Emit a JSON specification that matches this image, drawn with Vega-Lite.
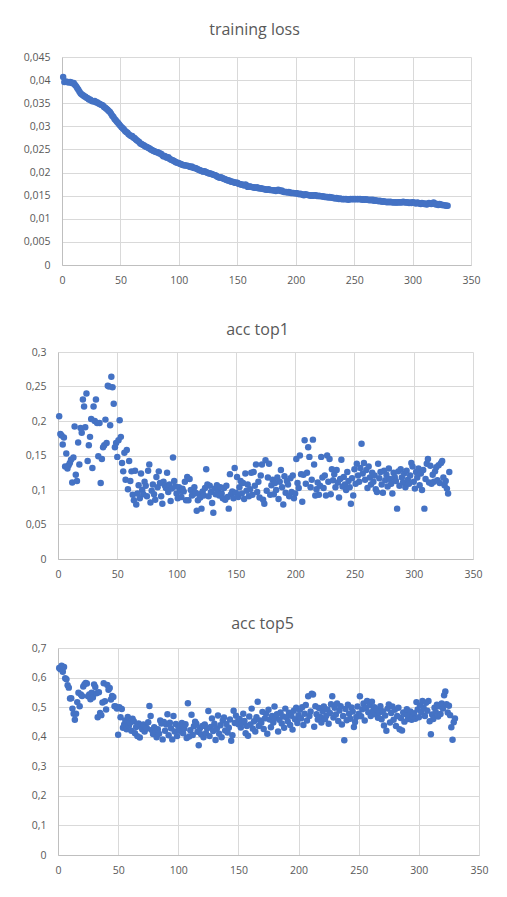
{
  "$schema": "https://vega.github.io/schema/vega-lite/v6.json",
  "background": "white",
  "padding": {"left": 0, "top": 22, "right": 0, "bottom": 0},
  "data": {"values": [
{"e":1,"loss":0.0407,"top1":0.207,"top5":0.632},{"e":2,"loss":0.0396,"top1":0.181,"top5":0.628},{"e":3,"loss":0.0397,"top1":0.179,"top5":0.640},{"e":4,"loss":0.0396,"top1":0.166,"top5":0.620},{"e":5,"loss":0.0396,"top1":0.176,"top5":0.636},
{"e":6,"loss":0.0395,"top1":0.134,"top5":0.598},{"e":7,"loss":0.0396,"top1":0.153,"top5":0.594},{"e":8,"loss":0.0395,"top1":0.131,"top5":0.574},{"e":9,"loss":0.0393,"top1":0.136,"top5":0.566},{"e":10,"loss":0.0394,"top1":0.139,"top5":0.529},
{"e":11,"loss":0.0390,"top1":0.144,"top5":0.530},{"e":12,"loss":0.0387,"top1":0.111,"top5":0.495},{"e":13,"loss":0.0383,"top1":0.147,"top5":0.478},{"e":14,"loss":0.0379,"top1":0.192,"top5":0.457},{"e":15,"loss":0.0375,"top1":0.122,"top5":0.478},
{"e":16,"loss":0.0371,"top1":0.113,"top5":0.517},{"e":17,"loss":0.0369,"top1":0.169,"top5":0.549},{"e":18,"loss":0.0367,"top1":0.137,"top5":0.503},{"e":19,"loss":0.0365,"top1":0.190,"top5":0.543},{"e":20,"loss":0.0364,"top1":0.183,"top5":0.538},
{"e":21,"loss":0.0362,"top1":0.231,"top5":0.570},{"e":22,"loss":0.0361,"top1":0.221,"top5":0.577},{"e":23,"loss":0.0358,"top1":0.191,"top5":0.582},{"e":24,"loss":0.0358,"top1":0.240,"top5":0.580},{"e":25,"loss":0.0356,"top1":0.142,"top5":0.537},
{"e":26,"loss":0.0354,"top1":0.165,"top5":0.543},{"e":27,"loss":0.0354,"top1":0.177,"top5":0.527},{"e":28,"loss":0.0355,"top1":0.203,"top5":0.549},{"e":29,"loss":0.0352,"top1":0.132,"top5":0.533},{"e":30,"loss":0.0352,"top1":0.221,"top5":0.577},
{"e":31,"loss":0.0350,"top1":0.200,"top5":0.568},{"e":32,"loss":0.0349,"top1":0.231,"top5":0.547},{"e":33,"loss":0.0347,"top1":0.197,"top5":0.466},{"e":34,"loss":0.0346,"top1":0.149,"top5":0.550},{"e":35,"loss":0.0345,"top1":0.197,"top5":0.480},
{"e":36,"loss":0.0342,"top1":0.110,"top5":0.473},{"e":37,"loss":0.0340,"top1":0.145,"top5":0.516},{"e":38,"loss":0.0338,"top1":0.162,"top5":0.581},{"e":39,"loss":0.0336,"top1":0.165,"top5":0.520},{"e":40,"loss":0.0333,"top1":0.202,"top5":0.492},
{"e":41,"loss":0.0331,"top1":0.168,"top5":0.575},{"e":42,"loss":0.0327,"top1":0.251,"top5":0.559},{"e":43,"loss":0.0323,"top1":0.250,"top5":0.565},{"e":44,"loss":0.0320,"top1":0.194,"top5":0.526},{"e":45,"loss":0.0316,"top1":0.264,"top5":0.538},
{"e":46,"loss":0.0313,"top1":0.249,"top5":0.534},{"e":47,"loss":0.0310,"top1":0.225,"top5":0.503},{"e":48,"loss":0.0307,"top1":0.162,"top5":0.502},{"e":49,"loss":0.0304,"top1":0.168,"top5":0.495},{"e":50,"loss":0.0301,"top1":0.148,"top5":0.407},
{"e":51,"loss":0.0298,"top1":0.172,"top5":0.500},{"e":52,"loss":0.0296,"top1":0.201,"top5":0.466},{"e":53,"loss":0.0293,"top1":0.177,"top5":0.494},{"e":54,"loss":0.0290,"top1":0.139,"top5":0.430},{"e":55,"loss":0.0288,"top1":0.127,"top5":0.441},
{"e":56,"loss":0.0286,"top1":0.154,"top5":0.455},{"e":57,"loss":0.0283,"top1":0.115,"top5":0.425},{"e":58,"loss":0.0281,"top1":0.158,"top5":0.467},{"e":59,"loss":0.0279,"top1":0.101,"top5":0.438},{"e":60,"loss":0.0279,"top1":0.142,"top5":0.448},
{"e":61,"loss":0.0276,"top1":0.113,"top5":0.420},{"e":62,"loss":0.0275,"top1":0.127,"top5":0.461},{"e":63,"loss":0.0272,"top1":0.093,"top5":0.452},{"e":64,"loss":0.0270,"top1":0.085,"top5":0.412},{"e":65,"loss":0.0268,"top1":0.128,"top5":0.433},
{"e":66,"loss":0.0266,"top1":0.079,"top5":0.402},{"e":67,"loss":0.0263,"top1":0.095,"top5":0.445},{"e":68,"loss":0.0262,"top1":0.107,"top5":0.397},{"e":69,"loss":0.0260,"top1":0.088,"top5":0.437},{"e":70,"loss":0.0259,"top1":0.124,"top5":0.425},
{"e":71,"loss":0.0257,"top1":0.100,"top5":0.441},{"e":72,"loss":0.0256,"top1":0.094,"top5":0.418},{"e":73,"loss":0.0255,"top1":0.112,"top5":0.433},{"e":74,"loss":0.0253,"top1":0.106,"top5":0.428},{"e":75,"loss":0.0252,"top1":0.091,"top5":0.449},
{"e":76,"loss":0.0250,"top1":0.128,"top5":0.504},{"e":77,"loss":0.0249,"top1":0.137,"top5":0.470},{"e":78,"loss":0.0247,"top1":0.082,"top5":0.423},{"e":79,"loss":0.0246,"top1":0.099,"top5":0.409},{"e":80,"loss":0.0245,"top1":0.108,"top5":0.432},
{"e":81,"loss":0.0244,"top1":0.094,"top5":0.418},{"e":82,"loss":0.0244,"top1":0.086,"top5":0.398},{"e":83,"loss":0.0242,"top1":0.119,"top5":0.425},{"e":84,"loss":0.0241,"top1":0.104,"top5":0.410},{"e":85,"loss":0.0240,"top1":0.127,"top5":0.455},
{"e":86,"loss":0.0237,"top1":0.110,"top5":0.445},{"e":87,"loss":0.0235,"top1":0.091,"top5":0.391},{"e":88,"loss":0.0236,"top1":0.080,"top5":0.450},{"e":89,"loss":0.0233,"top1":0.112,"top5":0.420},{"e":90,"loss":0.0232,"top1":0.107,"top5":0.441},
{"e":91,"loss":0.0233,"top1":0.103,"top5":0.476},{"e":92,"loss":0.0230,"top1":0.125,"top5":0.405},{"e":93,"loss":0.0228,"top1":0.097,"top5":0.447},{"e":94,"loss":0.0227,"top1":0.108,"top5":0.429},{"e":95,"loss":0.0226,"top1":0.084,"top5":0.391},
{"e":96,"loss":0.0225,"top1":0.102,"top5":0.470},{"e":97,"loss":0.0223,"top1":0.147,"top5":0.418},{"e":98,"loss":0.0222,"top1":0.113,"top5":0.443},{"e":99,"loss":0.0221,"top1":0.105,"top5":0.402},{"e":100,"loss":0.0220,"top1":0.095,"top5":0.435},
{"e":101,"loss":0.0219,"top1":0.088,"top5":0.420},{"e":102,"loss":0.0218,"top1":0.104,"top5":0.437},{"e":103,"loss":0.0217,"top1":0.099,"top5":0.446},{"e":104,"loss":0.0216,"top1":0.090,"top5":0.412},{"e":105,"loss":0.0216,"top1":0.102,"top5":0.428},
{"e":106,"loss":0.0215,"top1":0.098,"top5":0.442},{"e":107,"loss":0.0215,"top1":0.112,"top5":0.396},{"e":108,"loss":0.0214,"top1":0.085,"top5":0.513},{"e":109,"loss":0.0213,"top1":0.119,"top5":0.401},{"e":110,"loss":0.0212,"top1":0.085,"top5":0.422},
{"e":111,"loss":0.0213,"top1":0.116,"top5":0.474},{"e":112,"loss":0.0211,"top1":0.100,"top5":0.406},{"e":113,"loss":0.0210,"top1":0.092,"top5":0.435},{"e":114,"loss":0.0210,"top1":0.094,"top5":0.451},{"e":115,"loss":0.0209,"top1":0.104,"top5":0.444},
{"e":116,"loss":0.0207,"top1":0.096,"top5":0.417},{"e":117,"loss":0.0206,"top1":0.070,"top5":0.371},{"e":118,"loss":0.0205,"top1":0.085,"top5":0.429},{"e":119,"loss":0.0204,"top1":0.094,"top5":0.408},{"e":120,"loss":0.0203,"top1":0.089,"top5":0.436},
{"e":121,"loss":0.0202,"top1":0.073,"top5":0.398},{"e":122,"loss":0.0203,"top1":0.098,"top5":0.441},{"e":123,"loss":0.0201,"top1":0.092,"top5":0.412},{"e":124,"loss":0.0200,"top1":0.103,"top5":0.428},{"e":125,"loss":0.0199,"top1":0.130,"top5":0.487},
{"e":126,"loss":0.0198,"top1":0.108,"top5":0.402},{"e":127,"loss":0.0198,"top1":0.091,"top5":0.433},{"e":128,"loss":0.0197,"top1":0.106,"top5":0.462},{"e":129,"loss":0.0196,"top1":0.097,"top5":0.419},{"e":130,"loss":0.0195,"top1":0.081,"top5":0.444},
{"e":131,"loss":0.0194,"top1":0.067,"top5":0.389},{"e":132,"loss":0.0193,"top1":0.102,"top5":0.427},{"e":133,"loss":0.0191,"top1":0.094,"top5":0.472},{"e":134,"loss":0.0190,"top1":0.107,"top5":0.410},{"e":135,"loss":0.0189,"top1":0.099,"top5":0.439},
{"e":136,"loss":0.0190,"top1":0.092,"top5":0.398},{"e":137,"loss":0.0188,"top1":0.104,"top5":0.455},{"e":138,"loss":0.0187,"top1":0.095,"top5":0.465},{"e":139,"loss":0.0186,"top1":0.088,"top5":0.421},{"e":140,"loss":0.0185,"top1":0.103,"top5":0.443},
{"e":141,"loss":0.0184,"top1":0.086,"top5":0.414},{"e":142,"loss":0.0183,"top1":0.106,"top5":0.430},{"e":143,"loss":0.0183,"top1":0.090,"top5":0.458},{"e":144,"loss":0.0181,"top1":0.073,"top5":0.386},{"e":145,"loss":0.0180,"top1":0.123,"top5":0.405},
{"e":146,"loss":0.0180,"top1":0.094,"top5":0.488},{"e":147,"loss":0.0179,"top1":0.098,"top5":0.446},{"e":148,"loss":0.0178,"top1":0.088,"top5":0.471},{"e":149,"loss":0.0178,"top1":0.132,"top5":0.450},{"e":150,"loss":0.0178,"top1":0.096,"top5":0.442},
{"e":151,"loss":0.0176,"top1":0.119,"top5":0.460},{"e":152,"loss":0.0175,"top1":0.090,"top5":0.431},{"e":153,"loss":0.0174,"top1":0.104,"top5":0.446},{"e":154,"loss":0.0174,"top1":0.113,"top5":0.478},{"e":155,"loss":0.0173,"top1":0.095,"top5":0.453},
{"e":156,"loss":0.0172,"top1":0.110,"top5":0.412},{"e":157,"loss":0.0174,"top1":0.087,"top5":0.436},{"e":158,"loss":0.0172,"top1":0.124,"top5":0.403},{"e":159,"loss":0.0169,"top1":0.099,"top5":0.468},{"e":160,"loss":0.0170,"top1":0.108,"top5":0.441},
{"e":161,"loss":0.0170,"top1":0.091,"top5":0.495},{"e":162,"loss":0.0169,"top1":0.101,"top5":0.427},{"e":163,"loss":0.0168,"top1":0.125,"top5":0.452},{"e":164,"loss":0.0168,"top1":0.093,"top5":0.418},{"e":165,"loss":0.0167,"top1":0.126,"top5":0.466},
{"e":166,"loss":0.0167,"top1":0.106,"top5":0.518},{"e":167,"loss":0.0168,"top1":0.137,"top5":0.436},{"e":168,"loss":0.0166,"top1":0.097,"top5":0.455},{"e":169,"loss":0.0166,"top1":0.112,"top5":0.447},{"e":170,"loss":0.0166,"top1":0.089,"top5":0.484},
{"e":171,"loss":0.0165,"top1":0.121,"top5":0.426},{"e":172,"loss":0.0165,"top1":0.137,"top5":0.462},{"e":173,"loss":0.0164,"top1":0.086,"top5":0.478},{"e":174,"loss":0.0164,"top1":0.080,"top5":0.410},{"e":175,"loss":0.0163,"top1":0.143,"top5":0.491},
{"e":176,"loss":0.0163,"top1":0.099,"top5":0.458},{"e":177,"loss":0.0164,"top1":0.118,"top5":0.432},{"e":178,"loss":0.0162,"top1":0.138,"top5":0.470},{"e":179,"loss":0.0162,"top1":0.093,"top5":0.448},{"e":180,"loss":0.0162,"top1":0.107,"top5":0.502},
{"e":181,"loss":0.0161,"top1":0.115,"top5":0.464},{"e":182,"loss":0.0162,"top1":0.094,"top5":0.476},{"e":183,"loss":0.0160,"top1":0.110,"top5":0.418},{"e":184,"loss":0.0161,"top1":0.100,"top5":0.457},{"e":185,"loss":0.0163,"top1":0.118,"top5":0.482},
{"e":186,"loss":0.0162,"top1":0.087,"top5":0.445},{"e":187,"loss":0.0160,"top1":0.112,"top5":0.468},{"e":188,"loss":0.0161,"top1":0.129,"top5":0.430},{"e":189,"loss":0.0159,"top1":0.104,"top5":0.495},{"e":190,"loss":0.0158,"top1":0.079,"top5":0.466},
{"e":191,"loss":0.0158,"top1":0.120,"top5":0.452},{"e":192,"loss":0.0158,"top1":0.096,"top5":0.481},{"e":193,"loss":0.0157,"top1":0.113,"top5":0.440},{"e":194,"loss":0.0158,"top1":0.108,"top5":0.471},{"e":195,"loss":0.0157,"top1":0.091,"top5":0.424},
{"e":196,"loss":0.0156,"top1":0.117,"top5":0.488},{"e":197,"loss":0.0156,"top1":0.097,"top5":0.459},{"e":198,"loss":0.0156,"top1":0.121,"top5":0.498},{"e":199,"loss":0.0155,"top1":0.088,"top5":0.446},{"e":200,"loss":0.0155,"top1":0.095,"top5":0.473},
{"e":201,"loss":0.0155,"top1":0.145,"top5":0.491},{"e":202,"loss":0.0154,"top1":0.110,"top5":0.462},{"e":203,"loss":0.0153,"top1":0.103,"top5":0.500},{"e":204,"loss":0.0154,"top1":0.150,"top5":0.440},{"e":205,"loss":0.0153,"top1":0.123,"top5":0.478},
{"e":206,"loss":0.0152,"top1":0.083,"top5":0.507},{"e":207,"loss":0.0151,"top1":0.122,"top5":0.455},{"e":208,"loss":0.0153,"top1":0.172,"top5":0.537},{"e":209,"loss":0.0152,"top1":0.109,"top5":0.470},{"e":210,"loss":0.0152,"top1":0.125,"top5":0.485},
{"e":211,"loss":0.0151,"top1":0.162,"top5":0.545},{"e":212,"loss":0.0151,"top1":0.148,"top5":0.543},{"e":213,"loss":0.0150,"top1":0.104,"top5":0.434},{"e":214,"loss":0.0151,"top1":0.115,"top5":0.503},{"e":215,"loss":0.0150,"top1":0.173,"top5":0.476},
{"e":216,"loss":0.0151,"top1":0.137,"top5":0.458},{"e":217,"loss":0.0151,"top1":0.092,"top5":0.497},{"e":218,"loss":0.0150,"top1":0.101,"top5":0.467},{"e":219,"loss":0.0149,"top1":0.111,"top5":0.448},{"e":220,"loss":0.0150,"top1":0.093,"top5":0.486},
{"e":221,"loss":0.0149,"top1":0.106,"top5":0.502},{"e":222,"loss":0.0149,"top1":0.148,"top5":0.460},{"e":223,"loss":0.0148,"top1":0.118,"top5":0.471},{"e":224,"loss":0.0148,"top1":0.103,"top5":0.492},{"e":225,"loss":0.0147,"top1":0.121,"top5":0.444},
{"e":226,"loss":0.0147,"top1":0.092,"top5":0.480},{"e":227,"loss":0.0147,"top1":0.150,"top5":0.510},{"e":228,"loss":0.0146,"top1":0.112,"top5":0.537},{"e":229,"loss":0.0147,"top1":0.145,"top5":0.465},{"e":230,"loss":0.0146,"top1":0.094,"top5":0.498},
{"e":231,"loss":0.0146,"top1":0.130,"top5":0.475},{"e":232,"loss":0.0145,"top1":0.114,"top5":0.512},{"e":233,"loss":0.0145,"top1":0.123,"top5":0.453},{"e":234,"loss":0.0144,"top1":0.104,"top5":0.489},{"e":235,"loss":0.0145,"top1":0.129,"top5":0.503},
{"e":236,"loss":0.0144,"top1":0.111,"top5":0.441},{"e":237,"loss":0.0143,"top1":0.089,"top5":0.470},{"e":238,"loss":0.0144,"top1":0.116,"top5":0.388},{"e":239,"loss":0.0143,"top1":0.144,"top5":0.494},{"e":240,"loss":0.0142,"top1":0.105,"top5":0.456},
{"e":241,"loss":0.0143,"top1":0.119,"top5":0.508},{"e":242,"loss":0.0142,"top1":0.108,"top5":0.478},{"e":243,"loss":0.0143,"top1":0.100,"top5":0.461},{"e":244,"loss":0.0142,"top1":0.126,"top5":0.499},{"e":245,"loss":0.0141,"top1":0.113,"top5":0.485},
{"e":246,"loss":0.0142,"top1":0.104,"top5":0.433},{"e":247,"loss":0.0143,"top1":0.080,"top5":0.450},{"e":248,"loss":0.0142,"top1":0.117,"top5":0.467},{"e":249,"loss":0.0143,"top1":0.092,"top5":0.502},{"e":250,"loss":0.0142,"top1":0.130,"top5":0.478},
{"e":251,"loss":0.0143,"top1":0.109,"top5":0.537},{"e":252,"loss":0.0142,"top1":0.138,"top5":0.469},{"e":253,"loss":0.0143,"top1":0.121,"top5":0.493},{"e":254,"loss":0.0142,"top1":0.112,"top5":0.512},{"e":255,"loss":0.0143,"top1":0.132,"top5":0.455},
{"e":256,"loss":0.0142,"top1":0.167,"top5":0.497},{"e":257,"loss":0.0141,"top1":0.124,"top5":0.521},{"e":258,"loss":0.0142,"top1":0.139,"top5":0.483},{"e":259,"loss":0.0141,"top1":0.115,"top5":0.506},{"e":260,"loss":0.0142,"top1":0.129,"top5":0.470},
{"e":261,"loss":0.0141,"top1":0.103,"top5":0.518},{"e":262,"loss":0.0141,"top1":0.134,"top5":0.488},{"e":263,"loss":0.0140,"top1":0.118,"top5":0.500},{"e":264,"loss":0.0141,"top1":0.108,"top5":0.476},{"e":265,"loss":0.0140,"top1":0.125,"top5":0.492},
{"e":266,"loss":0.0141,"top1":0.112,"top5":0.464},{"e":267,"loss":0.0139,"top1":0.121,"top5":0.481},{"e":268,"loss":0.0140,"top1":0.101,"top5":0.503},{"e":269,"loss":0.0139,"top1":0.097,"top5":0.459},{"e":270,"loss":0.0139,"top1":0.138,"top5":0.486},
{"e":271,"loss":0.0138,"top1":0.117,"top5":0.438},{"e":272,"loss":0.0139,"top1":0.126,"top5":0.472},{"e":273,"loss":0.0138,"top1":0.108,"top5":0.420},{"e":274,"loss":0.0137,"top1":0.096,"top5":0.495},{"e":275,"loss":0.0138,"top1":0.128,"top5":0.509},
{"e":276,"loss":0.0137,"top1":0.114,"top5":0.448},{"e":277,"loss":0.0137,"top1":0.122,"top5":0.480},{"e":278,"loss":0.0136,"top1":0.105,"top5":0.502},{"e":279,"loss":0.0137,"top1":0.131,"top5":0.457},{"e":280,"loss":0.0136,"top1":0.116,"top5":0.491},
{"e":281,"loss":0.0137,"top1":0.109,"top5":0.436},{"e":282,"loss":0.0136,"top1":0.095,"top5":0.470},{"e":283,"loss":0.0136,"top1":0.125,"top5":0.498},{"e":284,"loss":0.0135,"top1":0.119,"top5":0.425},{"e":285,"loss":0.0136,"top1":0.113,"top5":0.463},
{"e":286,"loss":0.0135,"top1":0.073,"top5":0.421},{"e":287,"loss":0.0135,"top1":0.127,"top5":0.482},{"e":288,"loss":0.0136,"top1":0.106,"top5":0.451},{"e":289,"loss":0.0136,"top1":0.130,"top5":0.476},{"e":290,"loss":0.0135,"top1":0.118,"top5":0.493},
{"e":291,"loss":0.0136,"top1":0.111,"top5":0.460},{"e":292,"loss":0.0137,"top1":0.124,"top5":0.472},{"e":293,"loss":0.0136,"top1":0.104,"top5":0.485},{"e":294,"loss":0.0135,"top1":0.128,"top5":0.457},{"e":295,"loss":0.0136,"top1":0.115,"top5":0.468},
{"e":296,"loss":0.0135,"top1":0.109,"top5":0.479},{"e":297,"loss":0.0134,"top1":0.121,"top5":0.461},{"e":298,"loss":0.0135,"top1":0.139,"top5":0.517},{"e":299,"loss":0.0134,"top1":0.134,"top5":0.492},{"e":300,"loss":0.0136,"top1":0.112,"top5":0.466},
{"e":301,"loss":0.0135,"top1":0.102,"top5":0.506},{"e":302,"loss":0.0134,"top1":0.126,"top5":0.483},{"e":303,"loss":0.0133,"top1":0.118,"top5":0.521},{"e":304,"loss":0.0135,"top1":0.131,"top5":0.497},{"e":305,"loss":0.0134,"top1":0.107,"top5":0.470},
{"e":306,"loss":0.0133,"top1":0.124,"top5":0.515},{"e":307,"loss":0.0132,"top1":0.100,"top5":0.488},{"e":308,"loss":0.0134,"top1":0.129,"top5":0.521},{"e":309,"loss":0.0133,"top1":0.073,"top5":0.452},{"e":310,"loss":0.0132,"top1":0.116,"top5":0.408},
{"e":311,"loss":0.0133,"top1":0.138,"top5":0.475},{"e":312,"loss":0.0131,"top1":0.145,"top5":0.460},{"e":313,"loss":0.0132,"top1":0.111,"top5":0.498},{"e":314,"loss":0.0134,"top1":0.135,"top5":0.484},{"e":315,"loss":0.0133,"top1":0.109,"top5":0.508},
{"e":316,"loss":0.0132,"top1":0.122,"top5":0.468},{"e":317,"loss":0.0133,"top1":0.112,"top5":0.503},{"e":318,"loss":0.0135,"top1":0.127,"top5":0.477},{"e":319,"loss":0.0133,"top1":0.133,"top5":0.512},{"e":320,"loss":0.0131,"top1":0.114,"top5":0.495},
{"e":321,"loss":0.0132,"top1":0.136,"top5":0.540},{"e":322,"loss":0.0130,"top1":0.110,"top5":0.553},{"e":323,"loss":0.0132,"top1":0.139,"top5":0.510},{"e":324,"loss":0.0131,"top1":0.142,"top5":0.482},{"e":325,"loss":0.0130,"top1":0.118,"top5":0.505},
{"e":326,"loss":0.0130,"top1":0.107,"top5":0.473},{"e":327,"loss":0.0129,"top1":0.113,"top5":0.432},{"e":328,"loss":0.0129,"top1":0.102,"top5":0.390},{"e":329,"loss":0.0128,"top1":0.095,"top5":0.449},{"e":330,"loss":0.0128,"top1":0.126,"top5":0.462}
  ]},
  "columns": 1,
  "align": "none",
  "spacing": 36,
  "concat": [
    {
      "width": 413,
      "height": 208,
      "title": {"text": "training loss", "offset": 14, "dx": -10},
      "mark": {"type": "circle", "size": 42, "opacity": 1, "color": "#4472C4"},
      "encoding": {
        "x": {
          "field": "e",
          "type": "quantitative",
          "scale": {"domain": [0, 350], "nice": false, "range": [4, 413]},
          "axis": {"title": null, "values": [0, 50, 100, 150, 200, 250, 300, 350]}
        },
        "y": {
          "field": "loss",
          "type": "quantitative",
          "scale": {"domain": [0, 0.045], "nice": false},
          "axis": {
            "title": null,
            "offset": -4,
            "values": [0, 0.005, 0.01, 0.015, 0.02, 0.025, 0.03, 0.035, 0.04, 0.045],
            "labelExpr": "replace(format(datum.value, '~g'), '.', ',')",
            "minExtent": 54,
            "maxExtent": 54
          }
        }
      }
    },
    {
      "width": 415,
      "height": 207,
      "title": {"text": "acc top1", "offset": 9, "dx": -8},
      "mark": {"type": "circle", "size": 42, "opacity": 1, "color": "#4472C4"},
      "encoding": {
        "x": {
          "field": "e",
          "type": "quantitative",
          "scale": {"domain": [0, 350], "nice": false},
          "axis": {"title": null, "values": [0, 50, 100, 150, 200, 250, 300, 350]}
        },
        "y": {
          "field": "top1",
          "type": "quantitative",
          "scale": {"domain": [0, 0.3], "nice": false},
          "axis": {
            "title": null,
            "values": [0, 0.05, 0.1, 0.15, 0.2, 0.25, 0.3],
            "labelExpr": "replace(format(datum.value, '~g'), '.', ',')",
            "minExtent": 58,
            "maxExtent": 58
          }
        }
      }
    },
    {
      "width": 421,
      "height": 207,
      "title": {"text": "acc top5", "offset": 11, "dx": -6},
      "mark": {"type": "circle", "size": 42, "opacity": 1, "color": "#4472C4"},
      "encoding": {
        "x": {
          "field": "e",
          "type": "quantitative",
          "scale": {"domain": [0, 350], "nice": false},
          "axis": {"title": null, "values": [0, 50, 100, 150, 200, 250, 300, 350]}
        },
        "y": {
          "field": "top5",
          "type": "quantitative",
          "scale": {"domain": [0, 0.7], "nice": false},
          "axis": {
            "title": null,
            "values": [0, 0.1, 0.2, 0.3, 0.4, 0.5, 0.6, 0.7],
            "labelExpr": "replace(format(datum.value, '~g'), '.', ',')",
            "minExtent": 58,
            "maxExtent": 58
          }
        }
      }
    }
  ],
  "config": {
    "view": {"stroke": null},
    "title": {
      "font": "Open Sans",
      "fontSize": 16,
      "fontWeight": "normal",
      "color": "#595959",
      "anchor": "middle",
      "frame": "group",
      "baseline": "middle"
    },
    "axis": {
      "labelFont": "Open Sans",
      "labelFontSize": 10.5,
      "labelColor": "#595959",
      "domainColor": "#bfbfbf",
      "gridColor": "#d9d9d9",
      "ticks": false,
      "labelOverlap": false,
      "labelFlush": false,
      "labelBound": false
    },
    "axisX": {"labelPadding": 10},
    "axisY": {"labelPadding": 12}
  }
}
